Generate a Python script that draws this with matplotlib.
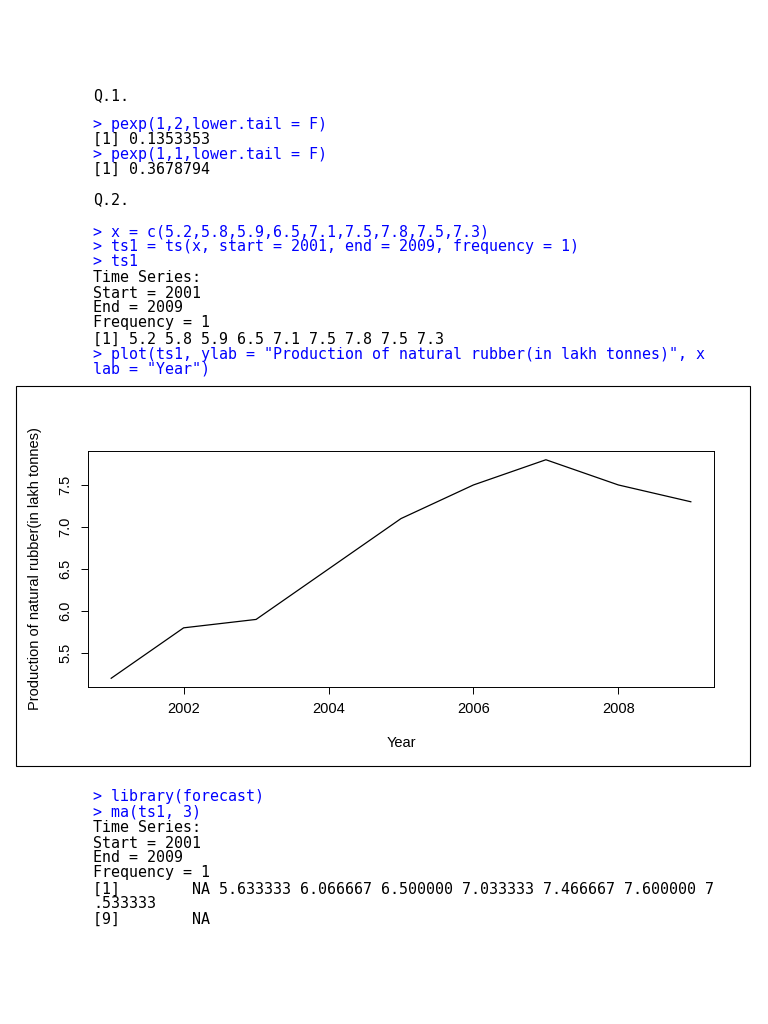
import matplotlib.pyplot as plt
from matplotlib.patches import Rectangle

W, H = 768, 1024
years = [2001, 2002, 2003, 2004, 2005, 2006, 2007, 2008, 2009]
production = [5.2, 5.8, 5.9, 6.5, 7.1, 7.5, 7.8, 7.5, 7.3]
xticks = [2002, 2004, 2006, 2008]
yticks = [5.5, 6.0, 6.5, 7.0, 7.5]

blue, black = '#0000ff', '#000000'
top_lines = [
    (96, 'Q.1.', black),
    (124, '> pexp(1,2,lower.tail = F)', blue),
    (139, '[1] 0.1353353', black),
    (154, '> pexp(1,1,lower.tail = F)', blue),
    (169, '[1] 0.3678794', black),
    (200, 'Q.2.', black),
    (232, '> x = c(5.2,5.8,5.9,6.5,7.1,7.5,7.8,7.5,7.3)', blue),
    (247, '> ts1 = ts(x, start = 2001, end = 2009, frequency = 1)', blue),
    (262, '> ts1', blue),
    (278, 'Time Series:', black),
    (293, 'Start = 2001', black),
    (308, 'End = 2009', black),
    (323, 'Frequency = 1', black),
    (339, '[1] 5.2 5.8 5.9 6.5 7.1 7.5 7.8 7.5 7.3', black),
    (354, '> plot(ts1, ylab = "Production of natural rubber(in lakh tonnes)", x', blue),
    (369, 'lab = "Year")', blue),
    (797, '> library(forecast)', blue),
    (812, '> ma(ts1, 3)', blue),
    (828, 'Time Series:', black),
    (843, 'Start = 2001', black),
    (858, 'End = 2009', black),
    (873, 'Frequency = 1', black),
    (889, '[1]        NA 5.633333 6.066667 6.500000 7.033333 7.466667 7.600000 7', black),
    (904, '.533333', black),
    (919, '[9]        NA', black),
]

fig = plt.figure(figsize=(W / 100, H / 100), dpi=100)
for y, s, c in top_lines:
    fig.text(93 / W, 1 - y / H, s, color=c, family='DejaVu Sans Mono',
             fontsize=10.8, va='center', ha='left')

# embedded plot frame
fig.patches.append(Rectangle((16 / W, 1 - 766 / H), 734 / W, 380 / H,
                             transform=fig.transFigure, fill=False,
                             edgecolor='black', lw=0.8))

ax = fig.add_axes([88 / W, 1 - 687 / H, (714 - 88) / W, (687 - 451) / H])
ax.plot(years, production, color='black', lw=0.9)
ax.set_xlim(2000.68, 2009.32)
ax.set_ylim(5.096, 7.904)
ax.set_xticks(xticks)
ax.set_yticks(yticks)
ax.set_xticklabels([str(t) for t in xticks], family='Liberation Sans', fontsize=10.5)
ax.set_yticklabels([f'{t:.1f}' for t in yticks], family='Liberation Sans',
                   fontsize=10.5, rotation=90, va='center')
ax.tick_params(length=5, width=0.7, pad=6)
for sp in ax.spines.values():
    sp.set_linewidth(0.7)
ax.set_xlabel('Year', family='Liberation Sans', fontsize=10.5, labelpad=14)
ax.set_ylabel('Production of natural rubber(in lakh tonnes)',
              family='Liberation Sans', fontsize=10.5, labelpad=12)

fig.savefig('out.png', dpi=100)
